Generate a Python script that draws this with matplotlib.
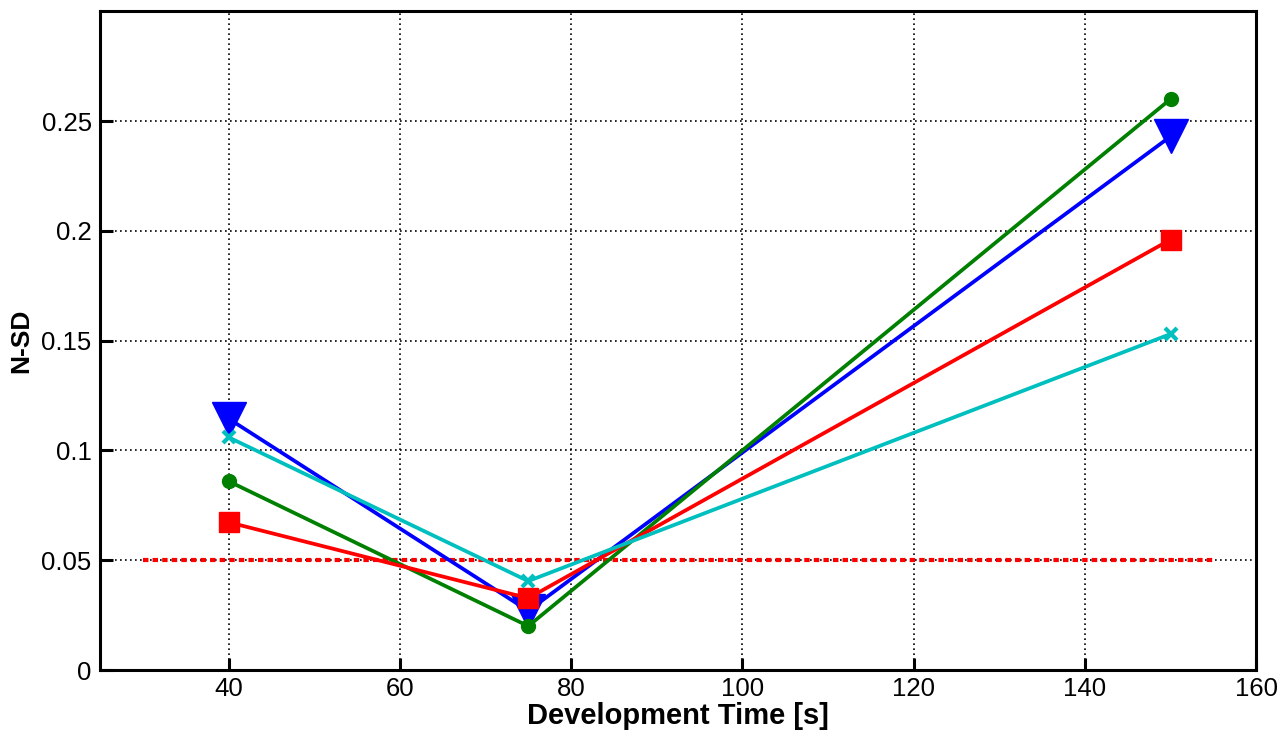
import numpy as np
import matplotlib
matplotlib.use('Agg')
import matplotlib.pyplot as plt

plt.rcParams['font.family'] = ['Liberation Sans', 'DejaVu Sans']

dev_time = [40, 75, 150]
nsd_blue = [0.1145, 0.027, 0.243]
nsd_green = [0.086, 0.020, 0.260]
nsd_red = [0.0673, 0.0327, 0.196]
nsd_cyan = [0.106, 0.0405, 0.153]
threshold = 0.05
thr_x = [30, 155]

fig = plt.figure(figsize=(12.86, 7.41), dpi=100)
ax = fig.add_axes([0.0778, 0.0958, 0.899, 0.889])

ax.plot(thr_x, [threshold, threshold], color='red', linestyle=(0, (1.3, 1.0)), lw=3, zorder=2)

ax.plot(dev_time, nsd_blue, color='#0000ff', lw=2.7, marker='v', ms=24, zorder=3)
ax.plot(dev_time, nsd_green, color='#008000', lw=2.7, marker='o', ms=10, zorder=4)
ax.plot(dev_time, nsd_red, color='#ff0000', lw=2.7, marker='s', ms=15, zorder=5)
ax.plot(dev_time, nsd_cyan, color='#00bfbf', lw=2.7, marker='x', ms=8, mew=3, zorder=6)

ax.set_xlim(25, 160)
ax.set_ylim(0, 0.3)
ax.set_xticks([40, 60, 80, 100, 120, 140, 160])
ax.set_yticks([0, 0.05, 0.1, 0.15, 0.2, 0.25])
ax.set_yticklabels(['0', '0.05', '0.1', '0.15', '0.2', '0.25'])
ax.grid(True, color='black', linestyle=(0, (1, 2)), lw=1.2)
ax.set_axisbelow(True)
ax.tick_params(direction='in', length=9, width=2.2, labelsize=18.5)
ax.tick_params(axis='x', pad=5)
ax.tick_params(axis='y', pad=6)
for s in ax.spines.values():
    s.set_linewidth(2.2)

ax.set_xlabel('Development Time [s]', fontsize=21, fontweight='bold', labelpad=1)
ax.set_ylabel('N-SD', fontsize=19, fontweight='bold', labelpad=6)

fig.savefig('out.png', dpi=100)
